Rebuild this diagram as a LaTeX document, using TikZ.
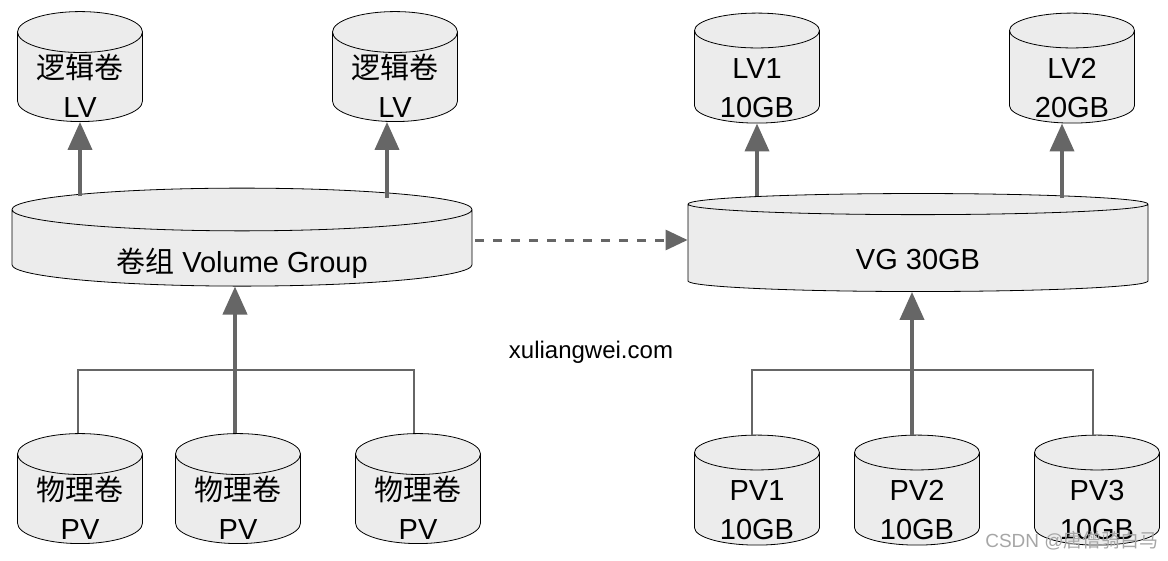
\documentclass[tikz,border=0pt]{standalone}
\usepackage{fontspec}
\setmainfont{Liberation Sans}
\newfontfamily\cjk{Noto Sans CJK SC}
\usetikzlibrary{shapes.geometric,arrows.meta}
\newcommand\disktext[1]{\raisebox{-19pt}[0pt][0pt]{\renewcommand\arraystretch{1.15}\begin{tabular}{@{}c@{}}#1\end{tabular}}}
\begin{document}
\begin{tikzpicture}[x=1pt,y=-1pt,>=latex,
  disk/.style={cylinder,shape border rotate=90,draw=black,fill=gray!15,line width=0.8pt,
    aspect=0.47,minimum width=125pt,minimum height=110pt,align=center,
    font=\fontsize{29}{34}\selectfont,inner sep=0pt},
  pool/.style={disk,minimum width=460pt,minimum height=98pt,aspect=0.17},
  up/.style={draw=black!60,line width=4pt,-{Triangle[width=24pt,length=28pt]}},
  link/.style={draw=black!60,line width=1.5pt}]
  \useasboundingbox (0,0) rectangle (1168,560);
  % left side
  \node[disk] (LVa) at (80,77) {\disktext{{\cjk 逻辑卷}\\LV}};
  \node[disk] (LVb) at (395,77) {\disktext{{\cjk 逻辑卷}\\LV}};
  \node[pool] (VG) at (242,248) {\raisebox{-24pt}[0pt][0pt]{{\cjk 卷组} Volume Group}};
  \node[disk] (PVa) at (80,499) {\disktext{{\cjk 物理卷}\\PV}};
  \node[disk] (PVb) at (238,499) {\disktext{{\cjk 物理卷}\\PV}};
  \node[disk] (PVc) at (418,499) {\disktext{{\cjk 物理卷}\\PV}};
  % right side
  \node[disk] (LV1) at (757,77) {\disktext{LV1\\10GB}};
  \node[disk] (LV2) at (1072,77) {\disktext{LV2\\20GB}};
  \node[pool] (VGr) at (918,248) {\raisebox{-21pt}[0pt][0pt]{VG 30GB}};
  \node[disk] (PV1) at (757,499) {\disktext{PV1\\10GB}};
  \node[disk] (PV2) at (917,499) {\disktext{PV2\\10GB}};
  \node[disk] (PV3) at (1097,499) {\disktext{PV3\\10GB}};
  \node[font=\fontsize{24}{28}\selectfont] (site) at (591,352) {xuliangwei.com};
  \node[text=black!35,font=\fontsize{19}{21}\selectfont] (mark) at (1072,541) {CSDN @{\cjk 唐僧骑白马}};

  \coordinate (Ta) at (80,196);
  \coordinate (Tb) at (387,198);
  \coordinate (Tc) at (757,196);
  \coordinate (Td) at (1062,198);
  \coordinate (Ja) at (235,370);
  \coordinate (Jb) at (912,370);
  \coordinate (Da) at (475,240);
  \draw[up] (Ta) -- (Ta |- LVa.south);
  \draw[up] (Tb) -- (Tb |- LVb.south);
  \draw[up] (Tc) -- (Tc |- LV1.south);
  \draw[up] (Td) -- (Td |- LV2.south);
  \draw[link] (PVa.north -| 78,0) |- (Ja) -| (PVc.north -| 414,0);
  \draw[up] (PVb.north -| Ja) -- (Ja |- VG.south);
  \draw[link] (PV1.north -| 752,0) |- (Jb) -| (PV3.north -| 1093,0);
  \draw[up] (PV2.north -| Jb) -- (Jb |- VGr.south);
  \draw[black!60,line width=3pt,dash pattern=on 9pt off 9pt,-{Triangle[width=20pt,length=22pt]}] (Da) -- (Da -| VGr.west);
\end{tikzpicture}
\end{document}
